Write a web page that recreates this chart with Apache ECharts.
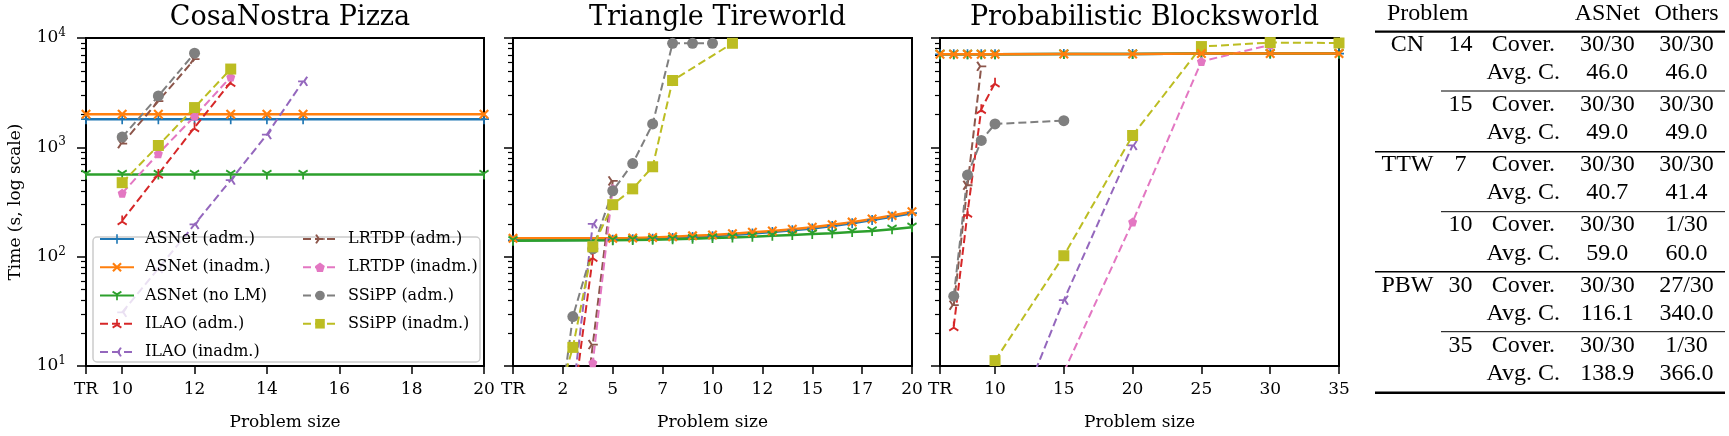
<!DOCTYPE html>
<html>
<head>
<meta charset="utf-8">
<script src="https://cdn.jsdelivr.net/npm/echarts@6/dist/echarts.min.js"></script>
<style>
  html, body { margin: 0; padding: 0; background: #fff; }
  #chart { width: 1729px; height: 436px; }
</style>
</head>
<body>
<div id="chart"></div>
<script>
const names = ['ASNet (adm.)', 'ASNet (inadm.)', 'ASNet (no LM)', 'ILAO (adm.)', 'ILAO (inadm.)',
  'LRTDP (adm.)', 'LRTDP (inadm.)', 'SSiPP (adm.)', 'SSiPP (inadm.)']

// CosaNostra Pizza, TR sits at 9
const cnTicks = [9, 10, 12, 14, 16, 18, 20]
const cnTickLabels = ['TR', '10', '12', '14', '16', '18', '20']
const cnAsnetX = [9, 10, 11, 12, 13, 14, 15, 20]
const cnAsnetAdm = [1810, 1810, 1810, 1810, 1810, 1810, 1810, 1810]
const cnAsnetInadm = [2010, 2010, 2010, 2010, 2010, 2010, 2010, 2010]
const cnAsnetNoLM = [565, 565, 565, 565, 565, 565, 565, 565]
const cnIlaoAdmX = [10, 11, 12, 13]
const cnIlaoAdm = [214, 569, 1520, 3940]
const cnIlaoInadmX = [10, 11, 12, 13, 14, 15]
const cnIlaoInadm = [31, 78, 197, 502, 1310, 4020]
const cnLrtdpAdmX = [10, 11, 12]
const cnLrtdpAdm = [1080, 2650, 6400]
const cnLrtdpInadmX = [10, 11, 12, 13]
const cnLrtdpInadm = [381, 875, 1920, 4400]
const cnSsippAdmX = [10, 11, 12]
const cnSsippAdm = [1240, 2950, 7260]
const cnSsippInadmX = [10, 11, 12, 13]
const cnSsippInadm = [475, 1040, 2310, 5200]

// Triangle Tireworld, TR sits at 0
const ttwTicks = [0, 2.5, 5, 7.5, 10, 12.5, 15, 17.5, 20]
const ttwTickLabels = ['TR', '2', '5', '7', '10', '12', '15', '17', '20']
const ttwAsnetX = [0, 5, 6, 7, 8, 9, 10, 11, 12, 13, 14, 15, 16, 17, 18, 19, 20]
const ttwAsnetAdm = [141, 143, 144, 146, 148, 151, 154, 158, 163, 168, 174, 181, 191, 202, 216, 232, 250]
const ttwAsnetInadm = [147, 147, 148, 150, 152, 155, 158, 162, 167, 172, 178, 186, 196, 207, 221, 238, 258]
const ttwAsnetNoLM = [140, 141, 142, 143, 144, 146, 148, 150, 152, 155, 158, 161, 164, 168, 172, 178, 186]
const ttwIlaoAdmX = [3, 4]
const ttwIlaoAdm = [4.1, 99]
const ttwIlaoInadmX = [3, 4]
const ttwIlaoInadm = [5.4, 200]
const ttwLrtdpAdmX = [3, 4, 5]
const ttwLrtdpAdm = [0.5, 15.7, 493]
const ttwLrtdpInadmX = [3, 4, 5]
const ttwLrtdpInadm = [0.3, 10.7, 420]
const ttwSsippAdmX = [2, 3, 4, 5, 6, 7, 8, 9, 10]
const ttwSsippAdm = [1.2, 28.3, 118, 400, 711, 1637, 8950, 8950, 8950]
const ttwSsippInadmX = [2, 3, 4, 5, 6, 7, 8, 11]
const ttwSsippInadm = [3.4, 14.8, 123, 299, 417, 664, 4086, 8950]

// Probabilistic Blocksworld, TR sits at 6
const pbwTicks = [6, 10, 15, 20, 25, 30, 35]
const pbwTickLabels = ['TR', '10', '15', '20', '25', '30', '35']
const pbwAsnetX = [6, 7, 8, 9, 10, 15, 20, 25, 30, 35]
const pbwAsnetAdm = [7100, 7100, 7100, 7100, 7100, 7150, 7150, 7200, 7200, 7200]
const pbwAsnetInadm = [7100, 7100, 7100, 7100, 7100, 7150, 7150, 7200, 7200, 7200]
const pbwAsnetNoLM = [7100, 7100, 7100, 7100, 7100, 7150, 7150, 7200, 7200, 7200]
const pbwIlaoAdmX = [7, 8, 9, 10]
const pbwIlaoAdm = [23, 251, 2234, 3890]
const pbwIlaoInadmX = [10, 15, 20]
const pbwIlaoInadm = [1.1, 40, 1042]
const pbwLrtdpAdmX = [7, 8, 9]
const pbwLrtdpAdm = [36, 450, 5510]
const pbwLrtdpInadmX = [15, 20, 25, 30]
const pbwLrtdpInadm = [8.8, 208, 6110, 8650]
const pbwSsippAdmX = [7, 8, 9, 10, 15]
const pbwSsippAdm = [43.5, 558, 1156, 1637, 1754]
const pbwSsippInadmX = [10, 15, 20, 25, 30, 35]
const pbwSsippInadm = [11.2, 102, 1283, 8350, 9080, 9000]

// results table
const tableHeader = ['Problem', 'ASNet', 'Others']
const tableRows = [
  ['CN', '14', 'Cover.', '30/30', '30/30'],
  ['', '', 'Avg. C.', '46.0', '46.0'],
  ['', '15', 'Cover.', '30/30', '30/30'],
  ['', '', 'Avg. C.', '49.0', '49.0'],
  ['TTW', '7', 'Cover.', '30/30', '30/30'],
  ['', '', 'Avg. C.', '40.7', '41.4'],
  ['', '10', 'Cover.', '30/30', '1/30'],
  ['', '', 'Avg. C.', '59.0', '60.0'],
  ['PBW', '30', 'Cover.', '30/30', '27/30'],
  ['', '', 'Avg. C.', '116.1', '340.0'],
  ['', '35', 'Cover.', '30/30', '1/30'],
  ['', '', 'Avg. C.', '138.9', '366.0'],
]

const SERIF = 'DejaVu Serif'
const TIMES = 'Liberation Serif'

// filled marker shapes, matplotlib style
function armsPath(angles, len, w) {
  return 'path://' + angles.map(a => {
    const r = a * Math.PI / 180
    const dx = Math.cos(r), dy = Math.sin(r)
    const px = -dy * w, py = dx * w
    const pts = [[px, py], [dx * len + px, dy * len + py], [dx * len - px, dy * len - py], [-px, -py]]
    return 'M' + pts.map(p => p[0].toFixed(2) + ',' + p[1].toFixed(2)).join('L') + 'Z'
  }).join('')
}
const plusSym = armsPath([0, 90, 180, 270], 6, 1.0)
const crossSym = armsPath([45, 135, 225, 315], 6, 1.1)
const triDown = armsPath([90, 210, 330], 6, 1.0)
const triUp = armsPath([270, 30, 150], 6, 1.0)
const triLeft = armsPath([180, 300, 60], 6, 1.0)
const triRight = armsPath([0, 120, 240], 6, 1.0)
const pentagon = 'path://M0,-6L5.7,-1.85L3.53,4.85L-3.53,4.85L-5.7,-1.85Z'

const styles = [
  { color: '#1f77b4', symbol: plusSym, size: 10, dashed: false },
  { color: '#ff7f0e', symbol: crossSym, size: 10, dashed: false },
  { color: '#2ca02c', symbol: triDown, size: 10, dashed: false },
  { color: '#d62728', symbol: triUp, size: 10, dashed: true },
  { color: '#9467bd', symbol: triLeft, size: 10, dashed: true },
  { color: '#8c564b', symbol: triRight, size: 10, dashed: true },
  { color: '#e377c2', symbol: pentagon, size: 9, dashed: true },
  { color: '#7f7f7f', symbol: 'circle', size: 11, dashed: true },
  { color: '#bcbd22', symbol: 'rect', size: 11, dashed: true },
]

const panels = [
  {
    title: 'CosaNostra Pizza', left: 86, width: 398, min: 9, max: 20,
    ticks: cnTicks, labels: cnTickLabels, front: -1,
    lines: [[cnAsnetX, cnAsnetAdm], [cnAsnetX, cnAsnetInadm], [cnAsnetX, cnAsnetNoLM],
      [cnIlaoAdmX, cnIlaoAdm], [cnIlaoInadmX, cnIlaoInadm], [cnLrtdpAdmX, cnLrtdpAdm],
      [cnLrtdpInadmX, cnLrtdpInadm], [cnSsippAdmX, cnSsippAdm], [cnSsippInadmX, cnSsippInadm]],
  },
  {
    title: 'Triangle Tireworld', left: 513, width: 399, min: 0, max: 20,
    ticks: ttwTicks, labels: ttwTickLabels, front: -1,
    lines: [[ttwAsnetX, ttwAsnetAdm], [ttwAsnetX, ttwAsnetInadm], [ttwAsnetX, ttwAsnetNoLM],
      [ttwIlaoAdmX, ttwIlaoAdm], [ttwIlaoInadmX, ttwIlaoInadm], [ttwLrtdpAdmX, ttwLrtdpAdm],
      [ttwLrtdpInadmX, ttwLrtdpInadm], [ttwSsippAdmX, ttwSsippAdm], [ttwSsippInadmX, ttwSsippInadm]],
  },
  {
    title: 'Probabilistic Blocksworld', left: 940, width: 399, min: 6, max: 35,
    ticks: pbwTicks, labels: pbwTickLabels, front: 1,
    lines: [[pbwAsnetX, pbwAsnetAdm], [pbwAsnetX, pbwAsnetInadm], [pbwAsnetX, pbwAsnetNoLM],
      [pbwIlaoAdmX, pbwIlaoAdm], [pbwIlaoInadmX, pbwIlaoInadm], [pbwLrtdpAdmX, pbwLrtdpAdm],
      [pbwLrtdpInadmX, pbwLrtdpInadm], [pbwSsippAdmX, pbwSsippAdm], [pbwSsippInadmX, pbwSsippInadm]],
  },
]

// minor ticks for the log axis, placed in log10 space on a helper axis
const minorLogs = []
for (let d = 1; d < 4; d++) {
  for (let k = 2; k <= 9; k++) minorLogs.push(d + Math.log10(k))
}

const GRID_TOP = 38
const GRID_H = 332
const black = '#000'

const grid = panels.map(p => ({
  left: p.left, top: GRID_TOP, width: p.width, height: GRID_H,
  show: true, borderColor: black, borderWidth: 2,
}))

const title = panels.map(p => ({
  text: p.title, left: p.left + p.width / 2, top: -1, textAlign: 'center',
  textStyle: { fontFamily: SERIF, fontSize: 27, fontWeight: 'normal', color: black },
}))

const xAxis = panels.map((p, i) => ({
  type: 'value', gridIndex: i, min: p.min, max: p.max,
  axisLine: { show: true, onZero: false, lineStyle: { color: black, width: 2 } },
  axisTick: { show: true, length: 8, customValues: p.ticks, lineStyle: { color: black, width: 1.5 } },
  axisLabel: {
    customValues: p.ticks, margin: 15, color: black, fontFamily: SERIF, fontSize: 17,
    formatter: v => p.labels[p.ticks.indexOf(v)] ?? '',
  },
  splitLine: { show: false },
  name: 'Problem size', nameLocation: 'middle', nameGap: 48,
  nameTextStyle: { fontFamily: SERIF, fontSize: 17, color: black },
}))

const yAxis = panels.map((p, i) => ({
  type: 'log', logBase: 10, gridIndex: i, min: 10, max: 10000, position: 'left',
  axisLine: { show: true, lineStyle: { color: black, width: 2 } },
  axisTick: { show: true, length: 9, lineStyle: { color: black, width: 1.5 } },
  axisLabel: {
    show: i === 0, margin: 20, color: black,
    formatter: v => '{b|10}{s|' + Math.round(Math.log10(v)) + '}',
    rich: {
      b: { fontFamily: SERIF, fontSize: 17, color: black },
      s: { fontFamily: SERIF, fontSize: 12, color: black, padding: [0, 0, 10, 0] },
    },
  },
  splitLine: { show: false },
  name: i === 0 ? 'Time (s, log scale)' : '', nameLocation: 'middle', nameGap: 62,
  nameTextStyle: { fontFamily: SERIF, fontSize: 17, color: black },
})).concat(panels.map((p, i) => ({
  type: 'value', gridIndex: i, min: 1, max: 4, position: 'left', offset: 0,
  axisLine: { show: false },
  axisTick: { show: true, length: 5, customValues: minorLogs, lineStyle: { color: black, width: 1.2 } },
  axisLabel: { show: false },
  splitLine: { show: false },
})))

const series = []
panels.forEach((p, pi) => {
  p.lines.forEach(([xs, ys], si) => {
    const st = styles[si]
    series.push({
      name: names[si], type: 'line', xAxisIndex: pi, yAxisIndex: pi,
      data: xs.map((x, k) => [x, ys[k]]),
      symbol: st.symbol, symbolSize: st.size, showAllSymbol: true,
      itemStyle: { color: st.color },
      lineStyle: { color: st.color, width: st.dashed ? 2 : 2.5, type: st.dashed ? [8, 4] : 'solid' },
      z: si === p.front ? 3 : 2,
      emphasis: { disabled: true },
      animation: false,
    })
  })
})

const legendBase = {
  orient: 'vertical', itemWidth: 34, itemHeight: 12, itemGap: 12.25, padding: 0, z: 60,
  selectedMode: false,
  textStyle: { fontFamily: SERIF, fontSize: 16, lineHeight: 12, color: black, padding: [0, 0, 0, 6] },
}
const legend = [
  Object.assign({}, legendBase, { data: names.slice(0, 5), left: 99, top: 231 }),
  Object.assign({}, legendBase, { data: names.slice(5), left: 302, top: 231 }),
]

// table drawn as graphic text and rules
const colX = [1407.5, 1460.5, 1523.3, 1607.3, 1686.5]
const rowY = i => 44.5 + Math.floor(i / 2) * 60.2 + (i % 2) * 28.3
const tableFont = '24px "' + TIMES + '"'
const graphic = [
  {
    type: 'rect', z: 50, shape: { x: 93, y: 237, width: 387, height: 125, r: 4 },
    style: { fill: 'rgba(255,255,255,0.8)', stroke: '#cccccc', lineWidth: 1.5 },
  },
  { type: 'text', x: 1387, y: 14, style: { text: tableHeader[0], font: tableFont, fill: black, textAlign: 'left', textVerticalAlign: 'middle' } },
  { type: 'text', x: colX[3], y: 14, style: { text: tableHeader[1], font: tableFont, fill: black, textAlign: 'center', textVerticalAlign: 'middle' } },
  { type: 'text', x: colX[4], y: 14, style: { text: tableHeader[2], font: tableFont, fill: black, textAlign: 'center', textVerticalAlign: 'middle' } },
]
tableRows.forEach((row, ri) => {
  row.forEach((cell, ci) => {
    if (!cell) return
    graphic.push({
      type: 'text', x: colX[ci], y: rowY(ri),
      style: { text: cell, font: tableFont, fill: black, textAlign: 'center', textVerticalAlign: 'middle' },
    })
  })
})
const rules = [[31.7, 1375, 2.2], [91, 1441, 1], [151.7, 1375, 1.4], [211.7, 1441, 1],
  [271.7, 1375, 1.4], [331.7, 1441, 1], [392.7, 1375, 2.5]]
rules.forEach(([y, x1, w]) => {
  graphic.push({ type: 'line', shape: { x1, y1: y, x2: 1725, y2: y }, style: { stroke: black, lineWidth: w } })
})

const chart = echarts.init(document.getElementById('chart'), null, { renderer: 'canvas' })
chart.setOption({
  backgroundColor: '#fff',
  animation: false,
  title, grid, xAxis, yAxis, legend, series, graphic,
})
</script>
</body>
</html>
